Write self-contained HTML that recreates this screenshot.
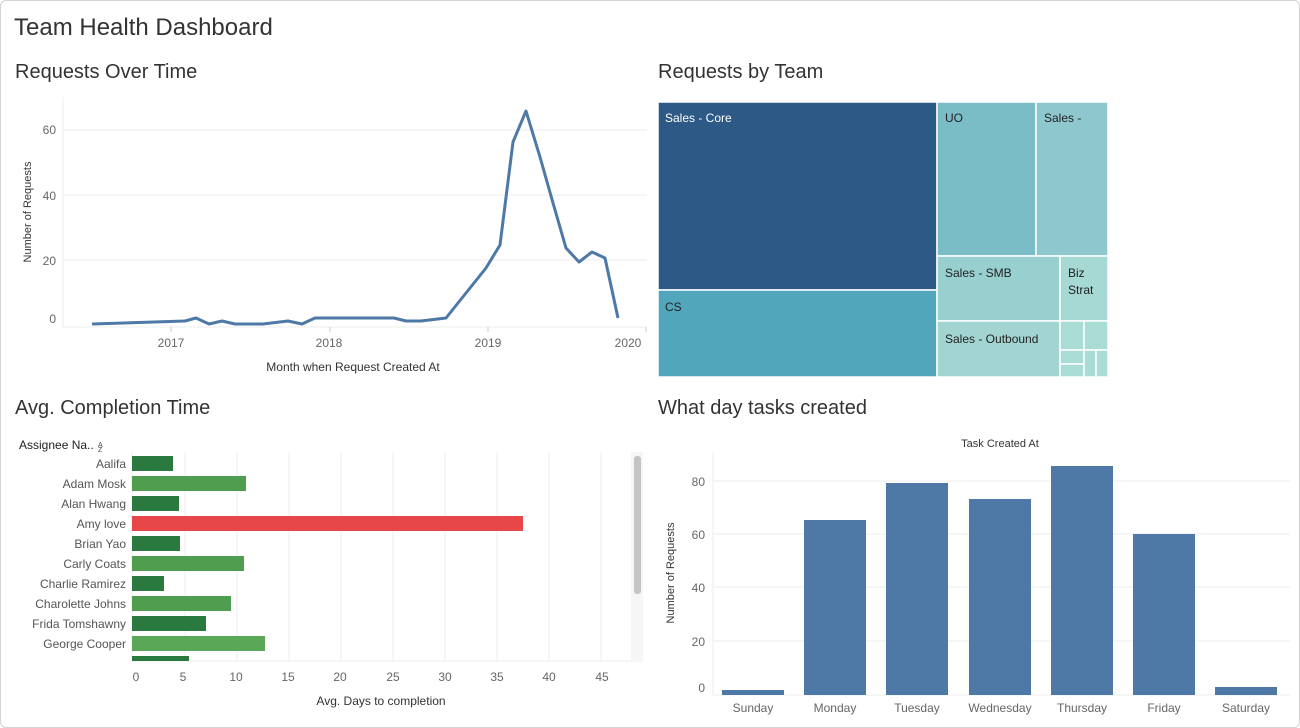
<!DOCTYPE html>
<html><head><meta charset="utf-8"><style>
body{margin:0;width:1300px;height:728px;background:#fff;overflow:hidden;font-family:"Liberation Sans",sans-serif}
.frame{position:absolute;left:0;top:0;width:1298px;height:726px;border:1px solid #d4d4d4;border-radius:6px}
.t{position:absolute;color:#333;white-space:nowrap}
</style></head><body>
<div class="frame"></div>
<div class="t" style="left:14px;top:14px;font-size:24px;color:#333">Team Health Dashboard</div>
<div class="t" style="left:15px;top:61px;font-size:20px">Requests Over Time</div>
<div class="t" style="left:658px;top:61px;font-size:20px">Requests by Team</div>
<div class="t" style="left:15px;top:397px;font-size:20px">Avg. Completion Time</div>
<div class="t" style="left:658px;top:397px;font-size:20px">What day tasks created</div>
<svg width="1300" height="728" style="position:absolute;left:0;top:0" font-family="Liberation Sans, sans-serif">
<!-- line chart -->
<g stroke="#eee" stroke-width="1">
<line x1="63" y1="130" x2="647" y2="130"/><line x1="63" y1="195" x2="647" y2="195"/><line x1="63" y1="260" x2="647" y2="260"/>
<line x1="63" y1="97" x2="63" y2="327"/><line x1="63" y1="327" x2="647" y2="327"/>
</g>
<g stroke="#ccc"><line x1="171" y1="327" x2="171" y2="332"/><line x1="330" y1="327" x2="330" y2="332"/><line x1="488" y1="327" x2="488" y2="332"/><line x1="646" y1="327" x2="646" y2="332"/></g>
<g font-size="12" fill="#666" text-anchor="end"><text x="56" y="134">60</text><text x="56" y="200">40</text><text x="56" y="265">20</text><text x="56" y="323">0</text></g>
<g font-size="12" fill="#666" text-anchor="middle"><text x="171" y="347">2017</text><text x="329" y="347">2018</text><text x="488" y="347">2019</text><text x="628" y="347">2020</text></g>
<text x="353" y="371" font-size="12" fill="#333" text-anchor="middle">Month when Request Created At</text>
<text transform="translate(31,212) rotate(-90)" font-size="11" fill="#333" text-anchor="middle">Number of Requests</text>
<polyline fill="none" stroke="#4e79a7" stroke-width="3" stroke-linejoin="round" points="92,324 185,321 196,318 209,324 222,321 235,324 263,324 288,321 302,324 315,318 394,318 406,321 421,321 446,318 486,268 500,245 513,142 526,111 540,157 553,203 566,248 579,262 592,252 605,258 618,318"/>
<!-- treemap -->
<g stroke="#fff" stroke-width="1.5">
<rect x="658" y="102" width="279" height="188" fill="#2c5985"/>
<rect x="658" y="290" width="279" height="87" fill="#51a6bb"/>
<rect x="937" y="102" width="99" height="154" fill="#7bbdc7"/>
<rect x="1036" y="102" width="72" height="154" fill="#8ec8ce"/>
<rect x="937" y="256" width="123" height="65" fill="#98d0cf"/>
<rect x="1060" y="256" width="48" height="65" fill="#a6d8d4"/>
<rect x="937" y="321" width="123" height="56" fill="#a2d5d1"/>
<rect x="1060" y="321" width="24" height="29" fill="#aadcd6"/>
<rect x="1084" y="321" width="24" height="29" fill="#aadcd6"/>
<rect x="1060" y="350" width="24" height="14" fill="#aadcd6"/>
<rect x="1060" y="364" width="24" height="13" fill="#aadcd6"/>
<rect x="1084" y="350" width="12" height="27" fill="#aadcd6"/>
<rect x="1096" y="350" width="12" height="27" fill="#aadcd6"/>
</g>
<g font-size="12"><text x="665" y="122" fill="#fff">Sales - Core</text><text x="665" y="311" fill="#222">CS</text>
<text x="945" y="122" fill="#222">UO</text><text x="1044" y="122" fill="#222">Sales -</text>
<text x="945" y="277" fill="#222">Sales - SMB</text><text x="1068" y="277" fill="#222">Biz</text><text x="1068" y="294" fill="#222">Strat</text>
<text x="945" y="343" fill="#222">Sales - Outbound</text></g>
<!-- bar chart avg -->
<text x="19" y="449" font-size="12" fill="#222">Assignee Na..</text><text x="98" y="447" font-size="7" fill="#444">A</text><text x="98" y="452" font-size="7" fill="#444">Z</text>
<g stroke="#eee"><line x1="185" y1="452" x2="185" y2="661"/><line x1="237" y1="452" x2="237" y2="661"/><line x1="289" y1="452" x2="289" y2="661"/><line x1="341" y1="452" x2="341" y2="661"/><line x1="393" y1="452" x2="393" y2="661"/><line x1="445" y1="452" x2="445" y2="661"/><line x1="497" y1="452" x2="497" y2="661"/><line x1="549" y1="452" x2="549" y2="661"/><line x1="601" y1="452" x2="601" y2="661"/><line x1="132" y1="452" x2="132" y2="661"/><line x1="132" y1="661" x2="633" y2="661"/></g>
<g>
<rect x="132" y="456" width="41" height="15" fill="#2a7a3f"/>
<rect x="132" y="476" width="114" height="15" fill="#4f9e50"/>
<rect x="132" y="496" width="47" height="15" fill="#2a7a3f"/>
<rect x="132" y="516" width="391" height="15" fill="#e8474a"/>
<rect x="132" y="536" width="48" height="15" fill="#2a7a3f"/>
<rect x="132" y="556" width="112" height="15" fill="#4f9e50"/>
<rect x="132" y="576" width="32" height="15" fill="#2a7a3f"/>
<rect x="132" y="596" width="99" height="15" fill="#4f9e50"/>
<rect x="132" y="616" width="74" height="15" fill="#2a7a3f"/>
<rect x="132" y="636" width="133" height="15" fill="#5aa857"/>
<rect x="132" y="656" width="57" height="5" fill="#2a7a3f"/>
</g>
<g font-size="12" fill="#555" text-anchor="end"><text x="126" y="468">Aalifa</text><text x="126" y="488">Adam Mosk</text><text x="126" y="508">Alan Hwang</text><text x="126" y="528">Amy love</text><text x="126" y="548">Brian Yao</text><text x="126" y="568">Carly Coats</text><text x="126" y="588">Charlie Ramirez</text><text x="126" y="608">Charolette Johns</text><text x="126" y="628">Frida Tomshawny</text><text x="126" y="648">George Cooper</text></g>
<rect x="631" y="452" width="12" height="210" fill="#f6f6f6"/>
<rect x="634" y="456" width="7" height="138" rx="3" fill="#c4c4c4"/>
<g font-size="12" fill="#666" text-anchor="middle"><text x="136" y="681">0</text><text x="183" y="681">5</text><text x="236" y="681">10</text><text x="288" y="681">15</text><text x="340" y="681">20</text><text x="393" y="681">25</text><text x="445" y="681">30</text><text x="497" y="681">35</text><text x="549" y="681">40</text><text x="602" y="681">45</text></g>
<text x="381" y="705" font-size="12" fill="#333" text-anchor="middle">Avg. Days to completion</text>
<!-- day chart -->
<text x="1000" y="447" font-size="11" fill="#333" text-anchor="middle">Task Created At</text>
<g stroke="#eee"><line x1="713" y1="481" x2="1290" y2="481"/><line x1="713" y1="534" x2="1290" y2="534"/><line x1="713" y1="587" x2="1290" y2="587"/><line x1="713" y1="641" x2="1290" y2="641"/><line x1="713" y1="452" x2="713" y2="695"/><line x1="713" y1="695" x2="1290" y2="695"/></g>
<g fill="#4e79a7">
<rect x="722" y="690" width="62" height="5"/><rect x="804" y="520" width="62" height="175"/><rect x="886" y="483" width="62" height="212"/><rect x="969" y="499" width="62" height="196"/><rect x="1051" y="466" width="62" height="229"/><rect x="1133" y="534" width="62" height="161"/><rect x="1215" y="687" width="62" height="8"/>
</g>
<g font-size="12" fill="#666" text-anchor="end"><text x="705" y="486">80</text><text x="705" y="539">60</text><text x="705" y="592">40</text><text x="705" y="646">20</text><text x="705" y="692">0</text></g>
<g font-size="12" fill="#666" text-anchor="middle"><text x="753" y="712">Sunday</text><text x="835" y="712">Monday</text><text x="917" y="712">Tuesday</text><text x="1000" y="712">Wednesday</text><text x="1082" y="712">Thursday</text><text x="1164" y="712">Friday</text><text x="1246" y="712">Saturday</text></g>
<text transform="translate(674,573) rotate(-90)" font-size="11" fill="#333" text-anchor="middle">Number of Requests</text>
</svg>
</body></html>
